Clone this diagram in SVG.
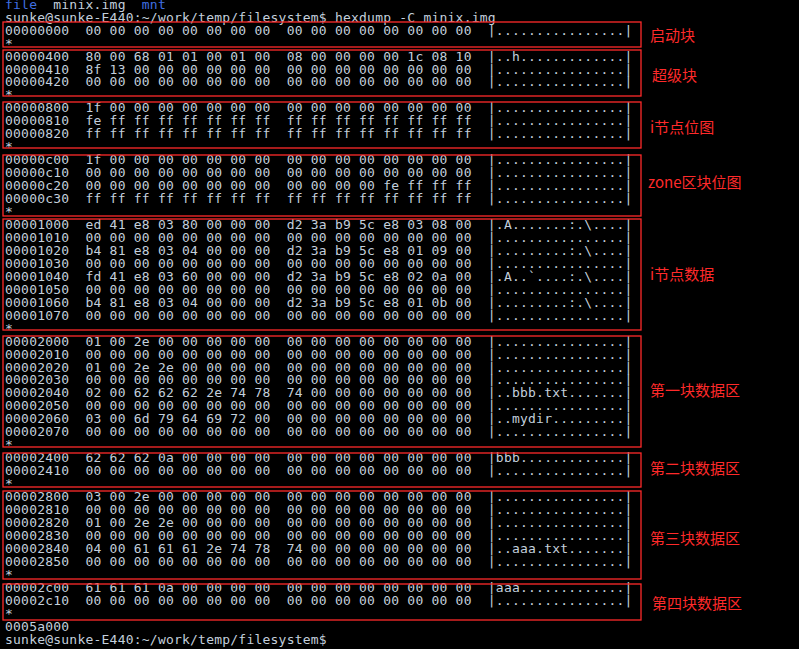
<svg xmlns="http://www.w3.org/2000/svg" width="799" height="649" viewBox="0 0 799 649">
<style>
.t{font-family:"DejaVu Sans Mono","Liberation Mono",monospace;font-size:13px;letter-spacing:0.22px;fill:#c3cfdc;white-space:pre}
.b{fill:#3f6fe0}
.box{fill:none;stroke:#ff2a2a;stroke-width:1.3}
.lab{font-family:"Noto Sans CJK SC","Noto Sans",sans-serif;font-size:15px;fill:#ff2a2a}
</style>
<rect width="799" height="649" fill="#000"/>
<g id="terminal" xml:space="preserve">
<text class="t" x="5" y="9"><tspan class="b">file</tspan>  minix.img  <tspan class="b">mnt</tspan></text>
<text class="t" x="5" y="22">sunke@sunke-E440:~/work/temp/filesystem$ hexdump -C minix.img</text>
<text class="t" x="5" y="35">00000000  00 00 00 00 00 00 00 00  00 00 00 00 00 00 00 00  |................|</text>
<text class="t" x="5" y="48">*</text>
<text class="t" x="5" y="61">00000400  80 00 68 01 01 00 01 00  08 00 00 00 00 1c 08 10  |..h.............|</text>
<text class="t" x="5" y="74">00000410  8f 13 00 00 00 00 00 00  00 00 00 00 00 00 00 00  |................|</text>
<text class="t" x="5" y="86">00000420  00 00 00 00 00 00 00 00  00 00 00 00 00 00 00 00  |................|</text>
<text class="t" x="5" y="99">*</text>
<text class="t" x="5" y="112">00000800  1f 00 00 00 00 00 00 00  00 00 00 00 00 00 00 00  |................|</text>
<text class="t" x="5" y="125">00000810  fe ff ff ff ff ff ff ff  ff ff ff ff ff ff ff ff  |................|</text>
<text class="t" x="5" y="138">00000820  ff ff ff ff ff ff ff ff  ff ff ff ff ff ff ff ff  |................|</text>
<text class="t" x="5" y="151">*</text>
<text class="t" x="5" y="164">00000c00  1f 00 00 00 00 00 00 00  00 00 00 00 00 00 00 00  |................|</text>
<text class="t" x="5" y="177">00000c10  00 00 00 00 00 00 00 00  00 00 00 00 00 00 00 00  |................|</text>
<text class="t" x="5" y="190">00000c20  00 00 00 00 00 00 00 00  00 00 00 00 fe ff ff ff  |................|</text>
<text class="t" x="5" y="203">00000c30  ff ff ff ff ff ff ff ff  ff ff ff ff ff ff ff ff  |................|</text>
<text class="t" x="5" y="216">*</text>
<text class="t" x="5" y="229">00001000  ed 41 e8 03 80 00 00 00  d2 3a b9 5c e8 03 08 00  |.A.......:.\....|</text>
<text class="t" x="5" y="242">00001010  00 00 00 00 00 00 00 00  00 00 00 00 00 00 00 00  |................|</text>
<text class="t" x="5" y="255">00001020  b4 81 e8 03 04 00 00 00  d2 3a b9 5c e8 01 09 00  |.........:.\....|</text>
<text class="t" x="5" y="268">00001030  00 00 00 00 00 00 00 00  00 00 00 00 00 00 00 00  |................|</text>
<text class="t" x="5" y="281">00001040  fd 41 e8 03 60 00 00 00  d2 3a b9 5c e8 02 0a 00  |.A..`....:.\....|</text>
<text class="t" x="5" y="294">00001050  00 00 00 00 00 00 00 00  00 00 00 00 00 00 00 00  |................|</text>
<text class="t" x="5" y="307">00001060  b4 81 e8 03 04 00 00 00  d2 3a b9 5c e8 01 0b 00  |.........:.\....|</text>
<text class="t" x="5" y="320">00001070  00 00 00 00 00 00 00 00  00 00 00 00 00 00 00 00  |................|</text>
<text class="t" x="5" y="333">*</text>
<text class="t" x="5" y="346">00002000  01 00 2e 00 00 00 00 00  00 00 00 00 00 00 00 00  |................|</text>
<text class="t" x="5" y="359">00002010  00 00 00 00 00 00 00 00  00 00 00 00 00 00 00 00  |................|</text>
<text class="t" x="5" y="372">00002020  01 00 2e 2e 00 00 00 00  00 00 00 00 00 00 00 00  |................|</text>
<text class="t" x="5" y="384">00002030  00 00 00 00 00 00 00 00  00 00 00 00 00 00 00 00  |................|</text>
<text class="t" x="5" y="397">00002040  02 00 62 62 62 2e 74 78  74 00 00 00 00 00 00 00  |..bbb.txt.......|</text>
<text class="t" x="5" y="410">00002050  00 00 00 00 00 00 00 00  00 00 00 00 00 00 00 00  |................|</text>
<text class="t" x="5" y="423">00002060  03 00 6d 79 64 69 72 00  00 00 00 00 00 00 00 00  |..mydir.........|</text>
<text class="t" x="5" y="436">00002070  00 00 00 00 00 00 00 00  00 00 00 00 00 00 00 00  |................|</text>
<text class="t" x="5" y="449">*</text>
<text class="t" x="5" y="462">00002400  62 62 62 0a 00 00 00 00  00 00 00 00 00 00 00 00  |bbb.............|</text>
<text class="t" x="5" y="475">00002410  00 00 00 00 00 00 00 00  00 00 00 00 00 00 00 00  |................|</text>
<text class="t" x="5" y="488">*</text>
<text class="t" x="5" y="501">00002800  03 00 2e 00 00 00 00 00  00 00 00 00 00 00 00 00  |................|</text>
<text class="t" x="5" y="514">00002810  00 00 00 00 00 00 00 00  00 00 00 00 00 00 00 00  |................|</text>
<text class="t" x="5" y="527">00002820  01 00 2e 2e 00 00 00 00  00 00 00 00 00 00 00 00  |................|</text>
<text class="t" x="5" y="540">00002830  00 00 00 00 00 00 00 00  00 00 00 00 00 00 00 00  |................|</text>
<text class="t" x="5" y="553">00002840  04 00 61 61 61 2e 74 78  74 00 00 00 00 00 00 00  |..aaa.txt.......|</text>
<text class="t" x="5" y="566">00002850  00 00 00 00 00 00 00 00  00 00 00 00 00 00 00 00  |................|</text>
<text class="t" x="5" y="579">*</text>
<text class="t" x="5" y="592">00002c00  61 61 61 0a 00 00 00 00  00 00 00 00 00 00 00 00  |aaa.............|</text>
<text class="t" x="5" y="605">00002c10  00 00 00 00 00 00 00 00  00 00 00 00 00 00 00 00  |................|</text>
<text class="t" x="5" y="618">*</text>
<text class="t" x="5" y="631">0005a000</text>
<text class="t" x="5" y="644">sunke@sunke-E440:~/work/temp/filesystem$</text>
</g>
<g id="boxes">
<rect class="box" x="3" y="22" width="638" height="25"/>
<rect class="box" x="3" y="50" width="638" height="46"/>
<rect class="box" x="3" y="102" width="638" height="46"/>
<rect class="box" x="3" y="155" width="638" height="61"/>
<rect class="box" x="3" y="219" width="638" height="111"/>
<rect class="box" x="3" y="336" width="638" height="111"/>
<rect class="box" x="3" y="453" width="638" height="34"/>
<rect class="box" x="3" y="491" width="638" height="88"/>
<rect class="box" x="3" y="584" width="638" height="36"/>
</g>
<g id="labels">
<text class="lab" x="650" y="41">启动块</text>
<text class="lab" x="652" y="81">超级块</text>
<text class="lab" x="650" y="133">i节点位图</text>
<text class="lab" x="648" y="188">zone区块位图</text>
<text class="lab" x="650" y="280">i节点数据</text>
<text class="lab" x="650" y="396">第一块数据区</text>
<text class="lab" x="650" y="474">第二块数据区</text>
<text class="lab" x="650" y="544">第三块数据区</text>
<text class="lab" x="652" y="609">第四块数据区</text>
</g>
</svg>
